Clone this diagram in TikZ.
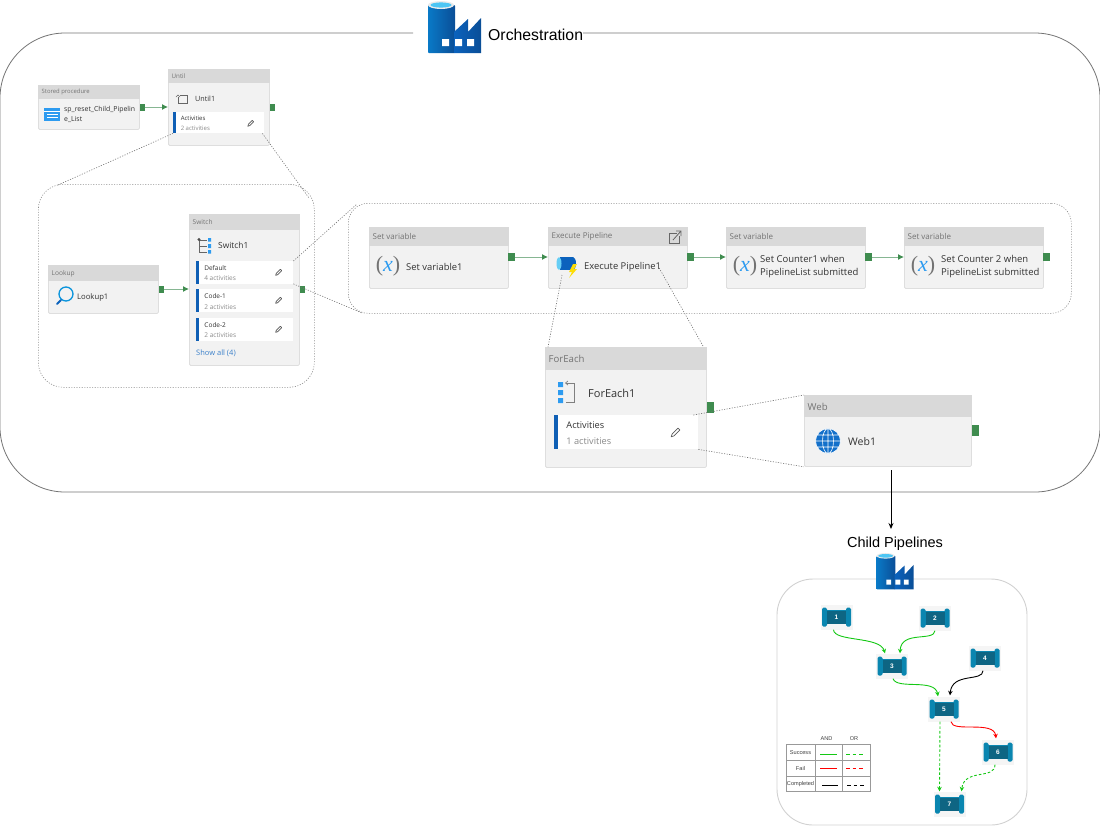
\documentclass[tikz,border=0pt]{standalone}
\usepackage{fontspec}
\setmainfont{Open Sans}
\newfontfamily\arialf{Liberation Sans}
\newfontfamily\serifx{Liberation Serif}
\usetikzlibrary{arrows.meta}
\definecolor{hdr}{HTML}{D9D9D9}
\definecolor{bodyc}{HTML}{F2F2F2}
\definecolor{edgec}{HTML}{DEDEDE}
\definecolor{portc}{HTML}{3F8C4F}
\definecolor{linkc}{HTML}{86B692}
\definecolor{barc}{HTML}{0F5FB5}
\definecolor{txt}{HTML}{333333}
\definecolor{subt}{HTML}{8A8A8A}
\definecolor{azure}{HTML}{0B62BD}
\definecolor{azured}{HTML}{0A4E97}
\definecolor{sky}{HTML}{2D9BF0}
\definecolor{pipeo}{HTML}{0A86B0}
\definecolor{pipei}{HTML}{0E6583}
\definecolor{okg}{HTML}{14C814}
\tikzset{
  actbox/.style={draw=edgec,fill=bodyc,line width=.8pt,rounded corners=1.2pt,inner sep=0pt,anchor=north west},
  porta/.style={fill=portc,inner sep=0pt,minimum width=5pt,minimum height=7pt},
  portb/.style={fill=portc,inner sep=0pt,minimum width=7pt,minimum height=11pt},
  flow/.style={draw=linkc,line width=1pt,-{Latex[color=portc,length=6pt,width=6pt]}},
  zoomline/.style={draw=black!55,line width=.6pt,dash pattern=on 1.1pt off 1.5pt},
  zoomframe/.style={draw=black!45,line width=.6pt,dash pattern=on 1.1pt off 1.5pt,anchor=north west,inner sep=0pt},
  lbl/.style={text=txt,inner sep=0pt,align=left,anchor=west},
  hdrt/.style={text=black!55,inner sep=0pt,anchor=west},
  rowb/.style={fill=white,inner sep=0pt,anchor=north west},
  pipebg/.style={fill=black!4,inner sep=0pt,minimum width=32pt,minimum height=25pt},
  grn/.style={draw=okg,line width=.9pt,-{Stealth[length=4.5pt,width=4.5pt]}},
  grnd/.style={grn,dash pattern=on 2.6pt off 2pt},
  redl/.style={draw=red,line width=.9pt,-{Stealth[length=4.5pt,width=4.5pt]}},
  blk/.style={draw=black,line width=.9pt,-{Stealth[length=4.5pt,width=4.5pt]}},
  tabt/.style={font=\arialf\fontsize{5.6}{7}\selectfont,text=black!75,inner sep=0pt},
  tabl/.style={draw=black!40,line width=.6pt},
  factory/.pic={
    \shade[left color=azure!85!cyan,right color=azured,rounded corners=.8pt] (0,4) -- (0,52) -- (27,52) -- (27,4) -- cycle;
    \shade[left color=azure,right color=azured] (26,31) -- (40,18) -- (40,31) -- (53,17) -- (53,52) -- (26,52) -- cycle;
    \fill[black!8] (13,4) ellipse (13 and 4);
    \fill[cyan!70] (13,4) ellipse (10.5 and 2.6);
    \fill[white] (14,38) rectangle (21,45) (27,38) rectangle (34,45) (39,38) rectangle (46,45);
  }
}
\newcommand{\actbox}[8]{% name x y w h headerh title fontsize
  \node[actbox,minimum width=#4pt,minimum height=#5pt] (#1) at (#2,#3) {};
  \fill[hdr] (#1.north west) rectangle ([yshift=-#6pt]#1.north east);
  \node[hdrt,font=\fontsize{#8}{#8}\selectfont] (#1-t) at ([xshift=3.5pt,yshift=-#6pt/2-0.4pt]#1.north west) {#7};
}
\newcommand{\actrow}[8]{% name x y w h title sub fontsize
  \node[rowb,minimum width=#4pt,minimum height=#5pt] (#1) at (#2,#3) {};
  \fill[barc] (#2,#3) rectangle ++(#5*0.12,#5);
  \node[lbl,font=\fontsize{#8}{#8}\selectfont] (#1-a) at ([xshift=#5*0.36pt,yshift=#5*0.2pt]#1.west) {#6};
  \node[lbl,text=subt,font=\fontsize{#8}{#8}\selectfont] (#1-b) at ([xshift=#5*0.36pt,yshift=-#5*0.26pt]#1.west) {#7};
}
\newcommand{\pencil}[3]{%
  \begin{scope}[shift={(#1,#2)},scale=#3]
    \draw[black!65,line width=.7pt,line join=round,fill=white] (-4,4) -- (-3.2,1.6) -- (1.6,-3.2) -- (3.2,-1.6) -- (-1.6,3.2) -- cycle;
  \end{scope}}
\newcommand{\pipe}[4]{%
  \node[pipebg] (#1) at (#2,#3) {};
  \begin{scope}[shift={(#2,#3)}]
    \fill[pipeo,rounded corners=1.5pt] (-14.5,-9.5) rectangle (-9.5,9.5) (9.5,-9.5) rectangle (14.5,9.5);
    \fill[pipeo] (-10,-7) rectangle (10,7);
    \fill[pipei] (-9.5,-6) rectangle (9.5,7);
  \end{scope}
  \node[text=white,inner sep=0pt,font=\arialf\bfseries\fontsize{6.5}{7}\selectfont] (#1-n) at (#2,#3) {#4};
}
\newcommand{\setvaricon}[2]{%
  \node[inner sep=0pt,font=\serifx\fontsize{22}{22}\selectfont] (#1) at #2 {\textcolor{black!55}{(}\textcolor{sky}{\itshape x}\textcolor{black!55}{)}};
}
\begin{document}
\begin{tikzpicture}[x=1pt,y=-1pt]
\useasboundingbox (0,0) rectangle (1100,831);
% outer frame
\coordinate (orchL) at (413,33);
\coordinate (orchR) at (583,33);
\draw[black!55,line width=.8pt,rounded corners=65pt] (orchL) -- (0,33) -- (0,492) -- (1100,492) -- (1100,33) -- (orchR);
\pic[scale=1] at (428,1) {factory};
\node[inner sep=0pt,anchor=west,font=\arialf\fontsize{15.8}{18}\selectfont] (orch) at (488,34.5) {Orchestration};

% zoom frames
\node[zoomframe,minimum width=276pt,minimum height=203pt,rounded corners=25pt] (frameA) at (38,184) {};
\node[zoomframe,minimum width=723pt,minimum height=110pt,rounded corners=20pt] (frameB) at (348,203) {};
\coordinate (aTL) at (58,185);
\coordinate (aTR) at (309,198);
\coordinate (bTL) at (357,204);
\coordinate (bBL) at (362,313);
\coordinate (feL) at (548,347);
\coordinate (feR) at (703,346);

% Stored procedure
\actbox{sp}{38}{85}{101}{44}{14}{Stored procedure}{5.9}
\fill[sky] (44,108) rectangle (60,121);
\draw[white,line width=.7pt] (44,111) -- (60,111) (47,114) -- (58,114) (47,117) -- (58,117);
\node[lbl,font=\fontsize{6.9}{9.5}\selectfont] (spt) at (64,114.5) {sp\_reset\_Child\_Pipelin\\e\_List};
\node[porta] (spp) at (142,107) {};
% Until
\actbox{until}{168}{69}{101}{76}{14}{Until}{6.2}
\draw[black!60,line width=.7pt] (180,95) -- (187,95) -- (187,103) -- (178,103) -- (178,97);
\draw[black!60,line width=.6pt] (176,97) -- (178,95) -- (180,97);
\node[lbl,font=\fontsize{7.2}{8}\selectfont] (untilt) at (195,98.5) {Until1};
\actrow{untilr}{173}{112}{91}{21}{Activities}{2 activities}{6}
\pencil{251}{123}{.8}
\node[porta] (untilp) at (272,107) {};
\draw[flow] (spp.east) -- (until.west |- spp.east);
\draw[zoomline] (untilr.south west) -- (aTL);
\draw[zoomline] ([xshift=-2pt]untilr.south east) -- (aTR);

% Lookup
\actbox{look}{48}{265}{110}{48}{16}{Lookup}{6.6}
\draw[cyan!80!blue,line width=1.3pt] (66,294) circle (7);
\draw[azure,line width=1.8pt,line cap=round] (61,300) -- (57,304);
\node[lbl,font=\fontsize{7.7}{9}\selectfont] (lookt) at (77,297) {Lookup1};
\node[porta] (lookp) at (161,289) {};
% Switch
\actbox{sw}{189}{214}{110}{151}{16}{Switch}{6.6}
\draw[black!60,line width=.6pt] (199,240) -- (199,252) -- (207,252) (199,240) -- (207,240) (199,246) -- (207,246);
\fill[black!70] (199,239.5) circle (1.6);
\fill[sky] (208,238) rectangle (211,241.5) (208,244) rectangle (211,248) (208,250) rectangle (211,253.5);
\node[lbl,font=\fontsize{8.4}{9}\selectfont] (swt) at (218,245.5) {Switch1};
\actrow{d0}{196}{261}{97}{22.5}{Default}{4 activities}{6.5}
\pencil{279}{272}{.85}
\actrow{d1}{196}{289}{97}{23}{Code-1}{2 activities}{6.5}
\pencil{279}{300}{.85}
\actrow{d2}{196}{317.5}{97}{23}{Code-2}{2 activities}{6.5}
\pencil{279}{329}{.85}
\node[lbl,text=azure!80!white,font=\fontsize{7.5}{8}\selectfont] (swall) at (196,353) {Show all (4)};
\node[porta] (swp) at (302,289) {};
\draw[flow] (lookp.east) -- (sw.west |- lookp.east);
\draw[zoomline] (d0.north east) -- (bTL);
\draw[zoomline] (d0.south east) -- (bBL);

% top row
\actbox{sv}{369}{227}{139}{61}{19}{Set variable}{8}
\setvaricon{svi}{(388,266)}
\node[lbl,font=\fontsize{9.4}{10}\selectfont] (svt) at (406,267) {Set variable1};
\node[portb,minimum width=7pt,minimum height=8pt] (svp) at (511.5,257) {};
\actbox{ep}{548}{227}{139}{61}{19}{Execute Pipeline}{8}
\draw[black!60,line width=.8pt] (677,233) -- (669,233) -- (669,243) -- (679,243) -- (679,236);
\draw[black!60,line width=.8pt] (673,240) -- (681,231) (676,231) -- (681,231) -- (681,236);
\fill[azure] (560,257) rectangle (573,270);
\fill[azure] (573,263.5) ellipse (3 and 6.5);
\fill[cyan!60] (559,263.5) ellipse (2.5 and 6.5);
\fill[yellow!80!orange] (573,264) -- (569,272) -- (572,272) -- (569,278) -- (577,269) -- (574,269) -- (577,264) -- cycle;
\node[lbl,font=\fontsize{9.4}{10}\selectfont] (ept) at (584,267) {Execute Pipeline1};
\node[portb,minimum width=7pt,minimum height=8pt] (epp) at (690,257) {};
\actbox{c1}{726}{227}{139}{61}{19}{Set variable}{8}
\setvaricon{c1i}{(745,266)}
\node[lbl,font=\fontsize{9.5}{12.5}\selectfont] (c1t) at (760,266.5) {Set Counter1 when\\PipelineList submitted};
\node[portb,minimum width=7pt,minimum height=8pt] (c1p) at (868,257) {};
\actbox{c2}{904}{227}{139}{61}{19}{Set variable}{8}
\setvaricon{c2i}{(923,266)}
\node[lbl,font=\fontsize{9.5}{12.5}\selectfont] (c2t) at (941,266.5) {Set Counter 2 when\\PipelineList submitted};
\node[portb,minimum width=7pt,minimum height=8pt] (c2p) at (1046,257) {};
\draw[flow] (svp.east) -- (ep.west |- svp.east);
\draw[flow] (epp.east) -- (c1.west |- epp.east);
\draw[flow] (c1p.east) -- (c2.west |- c1p.east);

% ForEach
\actbox{fe}{545}{347}{161}{120}{23}{ForEach}{9.6}
\fill[sky] (558,382) rectangle (563,387) (558,390) rectangle (563,395) (558,398) rectangle (563,403);
\draw[black!50,line width=1pt] (566,383) -- (574,383) -- (574,402) -- (566,402);
\draw[black!50,line width=.7pt] (568,381) -- (565.5,383) -- (568,385);
\node[lbl,font=\fontsize{11}{12}\selectfont] (fet) at (588,393) {ForEach1};
\actrow{fer}{554}{415}{144}{34}{Activities}{1 activities}{9.2}
\pencil{676}{432}{1.2}
\node[portb] (fep) at (710.5,407) {};
\draw[zoomline] ([xshift=-22pt,yshift=-8pt]ept.west) -- (feL);
\draw[zoomline] ([xshift=-2pt,yshift=-1pt]ept.east) -- (feR);

% Web
\actbox{web}{804}{395}{167}{71}{22}{Web}{9.6}
\fill[azure!75!sky] (828,441) circle (12.5);
\draw[white,line width=.6pt] (828,441) circle (12.5) (828,441) ellipse (5.5 and 12.5) (815.5,441) -- (840.5,441) (817,435) -- (839,435) (817,447) -- (839,447) (828,428.5) -- (828,453.5);
\node[lbl,font=\fontsize{10.5}{12}\selectfont] (webt) at (848,441.5) {Web1};
\node[portb] (webp) at (975,430) {};
\draw[zoomline] ([xshift=-5pt]fer.north east) -- (web.north west);
\draw[zoomline] (fer.south east) -- (web.south west);

% child pipelines
\node[inner sep=0pt,font=\arialf\fontsize{14.5}{16}\selectfont] (child) at (895,543.5) {Child Pipelines};
\coordinate (cArrS) at (891,470);
\coordinate (cArrE) at (891,529);
\draw[black,line width=.9pt,-{Stealth[length=6pt,width=5pt]}] (cArrS) -- (cArrE);
\coordinate (chL) at (876,579);
\coordinate (chR) at (913,579);
\draw[black!18,line width=.9pt,rounded corners=36pt] (chL) -- (777,579) -- (777,825) -- (1027,825) -- (1027,579) -- (chR);
\pic[scale=.7] at (876.5,553) {factory};

\pipe{p1}{836.5}{617}{1}
\pipe{p2}{935}{618}{2}
\pipe{p3}{892}{666}{3}
\pipe{p4}{985}{658}{4}
\pipe{p5}{944}{709}{5}
\pipe{p6}{998}{752}{6}
\pipe{p7}{949.5}{804}{7}
\draw[grn] ([xshift=-3pt]p1.south) .. controls (834,642) and (880,636) .. ([xshift=-7pt]p3.north);
\draw[grn] (p2.south) .. controls (934,642) and (901,630) .. ([xshift=8pt]p3.north);
\draw[grn] ([xshift=1pt]p3.south) .. controls (897,690) and (935,678) .. ([xshift=-6pt]p5.north);
\draw[blk] ([xshift=-2pt]p4.south) .. controls (983,682) and (952,672) .. ([xshift=6pt,yshift=1pt]p5.north);
\draw[redl] ([xshift=7pt]p5.south) .. controls (952,733) and (994,720) .. ([xshift=-2pt,yshift=1pt]p6.north);
\draw[grnd] ([xshift=-4pt]p5.south) -- ([xshift=-10pt]p7.north);
\draw[grnd] ([xshift=-3pt]p6.south) .. controls (995,780) and (964,768) .. ([xshift=12pt]p7.north);

% legend
\draw[tabl] (786,744) rectangle (870,791);
\draw[tabl] (815.5,744) -- (815.5,791) (842.5,744) -- (842.5,791) (786,760) -- (870,760) (786,776) -- (870,776);
\node[tabt] (tAnd) at (826.5,739) {AND};
\node[tabt] (tOr) at (854,739) {OR};
\node[tabt] (tS) at (800.5,753) {Success};
\node[tabt] (tF) at (800.5,768) {Fail};
\node[tabt] (tC) at (800.5,784) {Completed};
\draw[okg,line width=.9pt] (820,754) -- (837,754);
\draw[okg,line width=.9pt,dash pattern=on 3.5pt off 3pt] (846,754) -- (864,754);
\draw[red,line width=.9pt] (820,768.5) -- (837,768.5);
\draw[red,line width=.9pt,dash pattern=on 3.5pt off 3pt] (846,768.5) -- (864,768.5);
\draw[black,line width=.9pt] (822,785) -- (838,785);
\draw[black,line width=.9pt,dash pattern=on 3.5pt off 3pt] (847,785) -- (864,785);
\end{tikzpicture}
\end{document}
